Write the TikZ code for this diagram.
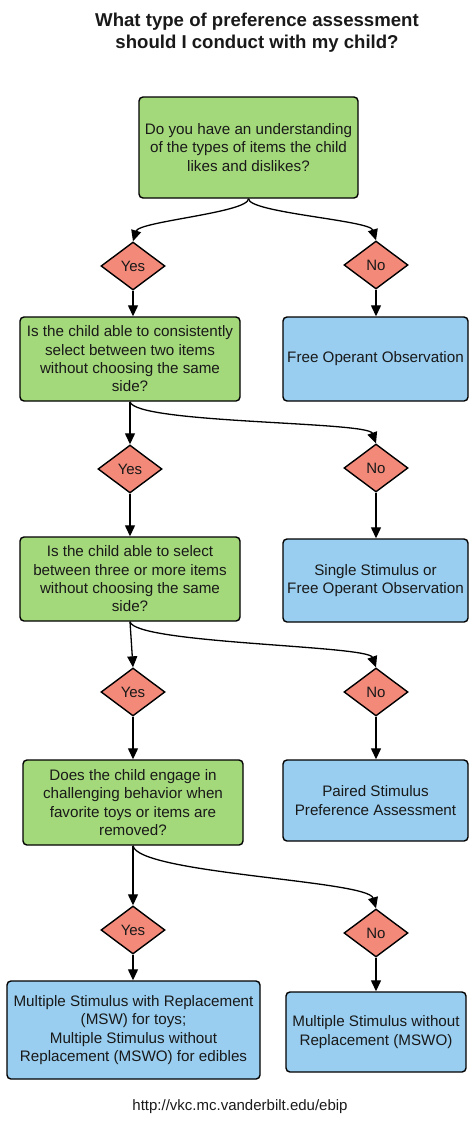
\documentclass[tikz,border=0pt]{standalone}
\usepackage{fontspec}
\setmainfont{Liberation Sans}
\usetikzlibrary{shapes.geometric,arrows.meta}
\definecolor{qgreen}{RGB}{164,217,123}
\definecolor{ablue}{RGB}{153,206,240}
\definecolor{dred}{RGB}{242,137,121}
\definecolor{txt}{RGB}{25,25,25}
\tikzset{
  qbox/.style={draw=black, line width=1.4pt, rounded corners=4pt, fill=qgreen, align=center, text=txt, font=\fontsize{15.2}{18.3}\selectfont, inner sep=0pt},
  abox/.style={draw=black, line width=1.4pt, rounded corners=4pt, fill=ablue, align=center, text=txt, font=\fontsize{15.2}{18.3}\selectfont, inner sep=0pt},
  dia/.style={diamond, draw=black, line width=1.4pt, fill=dred, minimum width=64pt, minimum height=48pt, inner sep=0pt, text=txt, font=\fontsize{15}{16}\selectfont},
  conn/.style={draw=black, line width=1.3pt, -{Triangle[length=11pt,width=10pt]}}
}
\begin{document}
\begin{tikzpicture}[x=1pt,y=-1pt]
\useasboundingbox (0,0) rectangle (474,1125);
\node[font=\bfseries\fontsize{18.6}{22}\selectfont, align=center, text=txt] (title) at (257,33) {What type of preference assessment\\should I conduct with my child?};

\node[qbox, minimum width=219pt, minimum height=101pt] (q1) at (248.5,147.5) {Do you have an understanding\\of the types of items the child\\likes and dislikes?};
\node[dia] (y1) at (133,266) {Yes};
\node[dia] (n1) at (376,265) {No};

\node[qbox, minimum width=220pt, minimum height=84pt] (q2) at (130,359) {Is the child able to consistently\\select between two items\\without choosing the same\\side?};
\node[abox, minimum width=185pt, minimum height=84pt] (a1) at (375.5,359) {Free Operant Observation};

\node[dia] (y2) at (130,469) {Yes};
\node[dia] (n2) at (376,468) {No};

\node[qbox, minimum width=220pt, minimum height=84pt] (q3) at (130,579) {Is the child able to select\\between three or more items\\without choosing the same\\side?};
\node[abox, minimum width=185pt, minimum height=83pt] (a2) at (375.5,580.5) {Single Stimulus or\\Free Operant Observation};

\node[dia] (y3) at (133,692) {Yes};
\node[dia] (n3) at (376,692) {No};

\node[qbox, minimum width=220pt, minimum height=85pt] (q4) at (133,802.5) {Does the child engage in\\challenging behavior when\\favorite toys or items are\\removed?};
\node[abox, minimum width=185pt, minimum height=81pt] (a3) at (375.5,800.5) {Paired Stimulus\\Preference Assessment};

\node[dia] (y4) at (133,930) {Yes};
\node[dia] (n4) at (376,933) {No};

\node[abox, minimum width=253pt, minimum height=98pt] (a4) at (133.5,1030) {Multiple Stimulus with Replacement\\(MSW) for toys;\\Multiple Stimulus without\\Replacement (MSWO) for edibles};
\node[abox, minimum width=180pt, minimum height=80pt] (a5) at (376,1032) {Multiple Stimulus without\\Replacement (MSWO)};

\node[font=\fontsize{15}{17}\selectfont, text=txt] (url) at (240,1107) {http://vkc.mc.vanderbilt.edu/ebip};

% connectors
\draw[conn] (q1.south) .. controls +(0,14) and +(6,-20) .. (y1.north);
\draw[conn] (q1.south) .. controls +(0,14) and +(-6,-20) .. (n1.north);
\draw[conn] (y1.south) -- (q2.north -| y1.south);
\draw[conn] (n1.south) -- (a1.north -| n1.south);

\draw[conn] (q2.south) -- (y2.north);
\draw[conn] (q2.south) .. controls +(5,22) and +(-8,-22) .. (n2.north);
\draw[conn] (y2.south) -- (q3.north);
\draw[conn] (n2.south) -- (a2.north -| n2.south);

\draw[conn] (q3.south) -- (y3.north);
\draw[conn] (q3.south) .. controls +(5,22) and +(-8,-22) .. (n3.north);
\draw[conn] (y3.south) -- (q4.north -| y3.south);
\draw[conn] (n3.south) -- (a3.north -| n3.south);

\draw[conn] (q4.south) -- (y4.north);
\draw[conn] (q4.south) .. controls +(5,28) and +(-8,-28) .. (n4.north);
\draw[conn] (y4.south) -- (a4.north -| y4.south);
\draw[conn] (n4.south) -- (a5.north -| n4.south);
\end{tikzpicture}
\end{document}
